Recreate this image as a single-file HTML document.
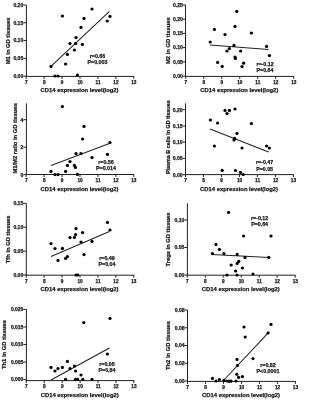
<!DOCTYPE html><html><head><meta charset="utf-8"><style>html,body{margin:0;padding:0;background:#fff;width:300px;height:400px;overflow:hidden}svg{display:block;will-change:transform}text{stroke:#1a1a1a;stroke-width:0.25px}</style></head><body>
<svg width="300" height="400" viewBox="0 0 300 400">
<rect width="300" height="400" fill="#fff"/>
<g font-family='"Liberation Sans", sans-serif' fill="#1a1a1a"><path d="M26.4 5V76.9" fill="none" stroke="#222" stroke-width="1"/><path d="M25.9 76.4H134.28" fill="none" stroke="#222" stroke-width="1"/><path d="M23.4 5H26.4" stroke="#222" stroke-width="1"/><text x="23.3" y="6.85" text-anchor="end" font-size="5.1" font-weight="bold">0.20</text><path d="M23.4 22.75H26.4" stroke="#222" stroke-width="1"/><text x="23.3" y="24.6" text-anchor="end" font-size="5.1" font-weight="bold">0.15</text><path d="M23.4 40.5H26.4" stroke="#222" stroke-width="1"/><text x="23.3" y="42.35" text-anchor="end" font-size="5.1" font-weight="bold">0.10</text><path d="M23.4 58.35H26.4" stroke="#222" stroke-width="1"/><text x="23.3" y="60.2" text-anchor="end" font-size="5.1" font-weight="bold">0.05</text><path d="M23.4 76.2H26.4" stroke="#222" stroke-width="1"/><text x="23.3" y="78.05" text-anchor="end" font-size="5.1" font-weight="bold">0.00</text><path d="M26.2 76.4V78.9" stroke="#222" stroke-width="1"/><text x="26.3" y="83.8" text-anchor="middle" font-size="4.7" font-weight="bold">7</text><path d="M44.13 76.4V78.9" stroke="#222" stroke-width="1"/><text x="44.23" y="83.8" text-anchor="middle" font-size="4.7" font-weight="bold">8</text><path d="M62.06 76.4V78.9" stroke="#222" stroke-width="1"/><text x="62.16" y="83.8" text-anchor="middle" font-size="4.7" font-weight="bold">9</text><path d="M79.99 76.4V78.9" stroke="#222" stroke-width="1"/><text x="80.09" y="83.8" text-anchor="middle" font-size="4.7" font-weight="bold">10</text><path d="M97.92 76.4V78.9" stroke="#222" stroke-width="1"/><text x="98.02" y="83.8" text-anchor="middle" font-size="4.7" font-weight="bold">11</text><path d="M115.85 76.4V78.9" stroke="#222" stroke-width="1"/><text x="115.95" y="83.8" text-anchor="middle" font-size="4.7" font-weight="bold">12</text><path d="M133.78 76.4V78.9" stroke="#222" stroke-width="1"/><text x="133.88" y="83.8" text-anchor="middle" font-size="4.7" font-weight="bold">13</text><text x="79.59" y="92.1" text-anchor="middle" font-size="5.85" font-weight="bold">CD14 expression level(log2)</text><text transform="translate(8.2 41) rotate(-90)" x="0" y="2.1" text-anchor="middle" font-size="5.8" font-weight="bold">M1 in GD tissues</text><path d="M51 66.4L109.4 11.4" stroke="#222" stroke-width="1.05"/><circle cx="62.4" cy="16" r="1.62" fill="#000"/><circle cx="84" cy="18.4" r="1.62" fill="#000"/><circle cx="81" cy="27.4" r="1.62" fill="#000"/><circle cx="76" cy="37.6" r="1.62" fill="#000"/><circle cx="70" cy="43.6" r="1.62" fill="#000"/><circle cx="75.6" cy="43.4" r="1.62" fill="#000"/><circle cx="82.4" cy="44.4" r="1.62" fill="#000"/><circle cx="74.4" cy="50" r="1.62" fill="#000"/><circle cx="67.4" cy="54.4" r="1.62" fill="#000"/><circle cx="65.6" cy="64" r="1.62" fill="#000"/><circle cx="51" cy="66.4" r="1.62" fill="#000"/><circle cx="55" cy="76" r="1.62" fill="#000"/><circle cx="58" cy="76" r="1.62" fill="#000"/><circle cx="77.4" cy="75" r="1.62" fill="#000"/><circle cx="92" cy="9" r="1.62" fill="#000"/><circle cx="110" cy="16.4" r="1.62" fill="#000"/><circle cx="107.2" cy="21" r="1.62" fill="#000"/><text x="97.5" y="58.1" text-anchor="middle" font-size="5.3" font-weight="bold">r=0.66</text><text x="97.5" y="64.3" text-anchor="middle" font-size="5.3" font-weight="bold">P=0.003</text></g>
<g font-family='"Liberation Sans", sans-serif' fill="#1a1a1a"><path d="M185.5 5V76.9" fill="none" stroke="#222" stroke-width="1"/><path d="M185 76.4H294.18" fill="none" stroke="#222" stroke-width="1"/><path d="M182.5 5H185.5" stroke="#222" stroke-width="1"/><text x="182.9" y="6.85" text-anchor="end" font-size="5.1" font-weight="bold">0.25</text><path d="M182.5 19.2H185.5" stroke="#222" stroke-width="1"/><text x="182.9" y="21.05" text-anchor="end" font-size="5.1" font-weight="bold">0.20</text><path d="M182.5 33.4H185.5" stroke="#222" stroke-width="1"/><text x="182.9" y="35.25" text-anchor="end" font-size="5.1" font-weight="bold">0.15</text><path d="M182.5 47.6H185.5" stroke="#222" stroke-width="1"/><text x="182.9" y="49.45" text-anchor="end" font-size="5.1" font-weight="bold">0.10</text><path d="M182.5 61.9H185.5" stroke="#222" stroke-width="1"/><text x="182.9" y="63.75" text-anchor="end" font-size="5.1" font-weight="bold">0.05</text><path d="M182.5 76.2H185.5" stroke="#222" stroke-width="1"/><text x="182.9" y="78.05" text-anchor="end" font-size="5.1" font-weight="bold">0.00</text><path d="M185.8 76.4V78.9" stroke="#222" stroke-width="1"/><text x="185.9" y="83.8" text-anchor="middle" font-size="4.7" font-weight="bold">7</text><path d="M203.78 76.4V78.9" stroke="#222" stroke-width="1"/><text x="203.88" y="83.8" text-anchor="middle" font-size="4.7" font-weight="bold">8</text><path d="M221.76 76.4V78.9" stroke="#222" stroke-width="1"/><text x="221.86" y="83.8" text-anchor="middle" font-size="4.7" font-weight="bold">9</text><path d="M239.74 76.4V78.9" stroke="#222" stroke-width="1"/><text x="239.84" y="83.8" text-anchor="middle" font-size="4.7" font-weight="bold">10</text><path d="M257.72 76.4V78.9" stroke="#222" stroke-width="1"/><text x="257.82" y="83.8" text-anchor="middle" font-size="4.7" font-weight="bold">11</text><path d="M275.7 76.4V78.9" stroke="#222" stroke-width="1"/><text x="275.8" y="83.8" text-anchor="middle" font-size="4.7" font-weight="bold">12</text><path d="M293.68 76.4V78.9" stroke="#222" stroke-width="1"/><text x="293.78" y="83.8" text-anchor="middle" font-size="4.7" font-weight="bold">13</text><text x="239.34" y="92.1" text-anchor="middle" font-size="5.85" font-weight="bold">CD14 expression level(log2)</text><text transform="translate(167.7 40.6) rotate(-90)" x="0" y="2.1" text-anchor="middle" font-size="5.8" font-weight="bold">M2 in GD tissues</text><path d="M210 45L268.6 49.6" stroke="#222" stroke-width="1.05"/><circle cx="236.8" cy="11.4" r="1.62" fill="#000"/><circle cx="235" cy="26.4" r="1.62" fill="#000"/><circle cx="214.4" cy="29.4" r="1.62" fill="#000"/><circle cx="225" cy="34.6" r="1.62" fill="#000"/><circle cx="251.4" cy="33" r="1.62" fill="#000"/><circle cx="210.2" cy="42" r="1.62" fill="#000"/><circle cx="234" cy="45.4" r="1.62" fill="#000"/><circle cx="266.6" cy="46.4" r="1.62" fill="#000"/><circle cx="229.4" cy="48.6" r="1.62" fill="#000"/><circle cx="227" cy="51" r="1.62" fill="#000"/><circle cx="240.6" cy="51" r="1.62" fill="#000"/><circle cx="269.4" cy="55.6" r="1.62" fill="#000"/><circle cx="235" cy="57" r="1.62" fill="#000"/><circle cx="235.4" cy="58.4" r="1.62" fill="#000"/><circle cx="217.6" cy="62.4" r="1.62" fill="#000"/><circle cx="243.6" cy="63.2" r="1.62" fill="#000"/><circle cx="222.2" cy="66.4" r="1.62" fill="#000"/><circle cx="242" cy="66.6" r="1.62" fill="#000"/><text x="265" y="65.9" text-anchor="middle" font-size="5.3" font-weight="bold">r=-0.12</text><text x="265" y="72.1" text-anchor="middle" font-size="5.3" font-weight="bold">P=0.64</text></g>
<g font-family='"Liberation Sans", sans-serif' fill="#1a1a1a"><path d="M26.4 103.3V175" fill="none" stroke="#222" stroke-width="1"/><path d="M25.9 174.5H134.28" fill="none" stroke="#222" stroke-width="1"/><path d="M23.4 119.7H26.4" stroke="#222" stroke-width="1"/><text x="23.3" y="121.55" text-anchor="end" font-size="5.1" font-weight="bold">4</text><path d="M23.4 147.2H26.4" stroke="#222" stroke-width="1"/><text x="23.3" y="149.05" text-anchor="end" font-size="5.1" font-weight="bold">2</text><path d="M23.4 174.7H26.4" stroke="#222" stroke-width="1"/><text x="23.3" y="176.55" text-anchor="end" font-size="5.1" font-weight="bold">0</text><path d="M26.2 174.5V177" stroke="#222" stroke-width="1"/><text x="26.3" y="181.9" text-anchor="middle" font-size="4.7" font-weight="bold">7</text><path d="M44.13 174.5V177" stroke="#222" stroke-width="1"/><text x="44.23" y="181.9" text-anchor="middle" font-size="4.7" font-weight="bold">8</text><path d="M62.06 174.5V177" stroke="#222" stroke-width="1"/><text x="62.16" y="181.9" text-anchor="middle" font-size="4.7" font-weight="bold">9</text><path d="M79.99 174.5V177" stroke="#222" stroke-width="1"/><text x="80.09" y="181.9" text-anchor="middle" font-size="4.7" font-weight="bold">10</text><path d="M97.92 174.5V177" stroke="#222" stroke-width="1"/><text x="98.02" y="181.9" text-anchor="middle" font-size="4.7" font-weight="bold">11</text><path d="M115.85 174.5V177" stroke="#222" stroke-width="1"/><text x="115.95" y="181.9" text-anchor="middle" font-size="4.7" font-weight="bold">12</text><path d="M133.78 174.5V177" stroke="#222" stroke-width="1"/><text x="133.88" y="181.9" text-anchor="middle" font-size="4.7" font-weight="bold">13</text><text x="79.59" y="190.5" text-anchor="middle" font-size="5.85" font-weight="bold">CD14 expression level(log2)</text><text transform="translate(14.7 138.3) rotate(-90)" x="0" y="2.1" text-anchor="middle" font-size="5.8" font-weight="bold">M1/M2 ratio in GD tissues</text><path d="M51 165.4L109.4 143.6" stroke="#222" stroke-width="1.05"/><circle cx="62.4" cy="106.6" r="1.62" fill="#000"/><circle cx="84" cy="126.4" r="1.62" fill="#000"/><circle cx="82.6" cy="139" r="1.62" fill="#000"/><circle cx="76" cy="153.6" r="1.62" fill="#000"/><circle cx="81" cy="153.6" r="1.62" fill="#000"/><circle cx="70" cy="161.6" r="1.62" fill="#000"/><circle cx="67.4" cy="165.4" r="1.62" fill="#000"/><circle cx="74.4" cy="165.4" r="1.62" fill="#000"/><circle cx="75.4" cy="167.4" r="1.62" fill="#000"/><circle cx="51" cy="171.4" r="1.62" fill="#000"/><circle cx="65.6" cy="171.4" r="1.62" fill="#000"/><circle cx="55" cy="174.6" r="1.62" fill="#000"/><circle cx="58" cy="174.6" r="1.62" fill="#000"/><circle cx="77.4" cy="174.4" r="1.62" fill="#000"/><circle cx="110" cy="142.6" r="1.62" fill="#000"/><circle cx="107.4" cy="154.4" r="1.62" fill="#000"/><circle cx="92" cy="157.6" r="1.62" fill="#000"/><text x="106" y="163.5" text-anchor="middle" font-size="5.3" font-weight="bold">r=0.56</text><text x="106" y="169.7" text-anchor="middle" font-size="5.3" font-weight="bold">P=0.014</text></g>
<g font-family='"Liberation Sans", sans-serif' fill="#1a1a1a"><path d="M185.5 103.3V175.1" fill="none" stroke="#222" stroke-width="1"/><path d="M185 174.6H293.88" fill="none" stroke="#222" stroke-width="1"/><path d="M182.5 109.7H185.5" stroke="#222" stroke-width="1"/><text x="182.6" y="111.55" text-anchor="end" font-size="5.1" font-weight="bold">0.20</text><path d="M182.5 126H185.5" stroke="#222" stroke-width="1"/><text x="182.6" y="127.85" text-anchor="end" font-size="5.1" font-weight="bold">0.15</text><path d="M182.5 142.2H185.5" stroke="#222" stroke-width="1"/><text x="182.6" y="144.05" text-anchor="end" font-size="5.1" font-weight="bold">0.10</text><path d="M182.5 158.4H185.5" stroke="#222" stroke-width="1"/><text x="182.6" y="160.25" text-anchor="end" font-size="5.1" font-weight="bold">0.05</text><path d="M182.5 174.7H185.5" stroke="#222" stroke-width="1"/><text x="182.6" y="176.55" text-anchor="end" font-size="5.1" font-weight="bold">0.00</text><path d="M185.5 174.6V177.1" stroke="#222" stroke-width="1"/><text x="185.6" y="182" text-anchor="middle" font-size="4.7" font-weight="bold">7</text><path d="M203.48 174.6V177.1" stroke="#222" stroke-width="1"/><text x="203.58" y="182" text-anchor="middle" font-size="4.7" font-weight="bold">8</text><path d="M221.46 174.6V177.1" stroke="#222" stroke-width="1"/><text x="221.56" y="182" text-anchor="middle" font-size="4.7" font-weight="bold">9</text><path d="M239.44 174.6V177.1" stroke="#222" stroke-width="1"/><text x="239.54" y="182" text-anchor="middle" font-size="4.7" font-weight="bold">10</text><path d="M257.42 174.6V177.1" stroke="#222" stroke-width="1"/><text x="257.52" y="182" text-anchor="middle" font-size="4.7" font-weight="bold">11</text><path d="M275.4 174.6V177.1" stroke="#222" stroke-width="1"/><text x="275.5" y="182" text-anchor="middle" font-size="4.7" font-weight="bold">12</text><path d="M293.38 174.6V177.1" stroke="#222" stroke-width="1"/><text x="293.48" y="182" text-anchor="middle" font-size="4.7" font-weight="bold">13</text><text x="239.04" y="190.5" text-anchor="middle" font-size="5.85" font-weight="bold">CD14 expression level(log2)</text><text transform="translate(167.6 137.2) rotate(-90)" x="0" y="2.1" text-anchor="middle" font-size="5.4" font-weight="bold">Plasma B cells in GD tissues</text><path d="M210 129L268.6 152" stroke="#222" stroke-width="1.05"/><circle cx="225" cy="110.4" r="1.62" fill="#000"/><circle cx="229.4" cy="110.4" r="1.62" fill="#000"/><circle cx="235" cy="109" r="1.62" fill="#000"/><circle cx="227" cy="113.6" r="1.62" fill="#000"/><circle cx="210.4" cy="120" r="1.62" fill="#000"/><circle cx="217.6" cy="123" r="1.62" fill="#000"/><circle cx="251.4" cy="123.6" r="1.62" fill="#000"/><circle cx="237" cy="133.4" r="1.62" fill="#000"/><circle cx="234.6" cy="138.4" r="1.62" fill="#000"/><circle cx="234" cy="140" r="1.62" fill="#000"/><circle cx="214.4" cy="146" r="1.62" fill="#000"/><circle cx="242" cy="148" r="1.62" fill="#000"/><circle cx="266.6" cy="146" r="1.62" fill="#000"/><circle cx="269.4" cy="148" r="1.62" fill="#000"/><circle cx="222.2" cy="170.4" r="1.62" fill="#000"/><circle cx="235.4" cy="170.5" r="1.62" fill="#000"/><circle cx="240.5" cy="172.4" r="1.62" fill="#000"/><circle cx="243.2" cy="174.5" r="1.62" fill="#000"/><text x="264.6" y="164.4" text-anchor="middle" font-size="5.3" font-weight="bold">r=-0.47</text><text x="264.6" y="170.6" text-anchor="middle" font-size="5.3" font-weight="bold">P=0.05</text></g>
<g font-family='"Liberation Sans", sans-serif' fill="#1a1a1a"><path d="M26.3 203.3V275.7" fill="none" stroke="#222" stroke-width="1"/><path d="M25.8 275.2H134.28" fill="none" stroke="#222" stroke-width="1"/><path d="M23.3 203.3H26.3" stroke="#222" stroke-width="1"/><text x="23.3" y="205.15" text-anchor="end" font-size="5.1" font-weight="bold">0.15</text><path d="M23.3 227.2H26.3" stroke="#222" stroke-width="1"/><text x="23.3" y="229.05" text-anchor="end" font-size="5.1" font-weight="bold">0.10</text><path d="M23.3 251.1H26.3" stroke="#222" stroke-width="1"/><text x="23.3" y="252.95" text-anchor="end" font-size="5.1" font-weight="bold">0.05</text><path d="M23.3 275H26.3" stroke="#222" stroke-width="1"/><text x="23.3" y="276.85" text-anchor="end" font-size="5.1" font-weight="bold">0.00</text><path d="M26.2 275.2V277.7" stroke="#222" stroke-width="1"/><text x="26.3" y="282.6" text-anchor="middle" font-size="4.7" font-weight="bold">7</text><path d="M44.13 275.2V277.7" stroke="#222" stroke-width="1"/><text x="44.23" y="282.6" text-anchor="middle" font-size="4.7" font-weight="bold">8</text><path d="M62.06 275.2V277.7" stroke="#222" stroke-width="1"/><text x="62.16" y="282.6" text-anchor="middle" font-size="4.7" font-weight="bold">9</text><path d="M79.99 275.2V277.7" stroke="#222" stroke-width="1"/><text x="80.09" y="282.6" text-anchor="middle" font-size="4.7" font-weight="bold">10</text><path d="M97.92 275.2V277.7" stroke="#222" stroke-width="1"/><text x="98.02" y="282.6" text-anchor="middle" font-size="4.7" font-weight="bold">11</text><path d="M115.85 275.2V277.7" stroke="#222" stroke-width="1"/><text x="115.95" y="282.6" text-anchor="middle" font-size="4.7" font-weight="bold">12</text><path d="M133.78 275.2V277.7" stroke="#222" stroke-width="1"/><text x="133.88" y="282.6" text-anchor="middle" font-size="4.7" font-weight="bold">13</text><text x="79.59" y="291" text-anchor="middle" font-size="5.85" font-weight="bold">CD14 expression level(log2)</text><text transform="translate(8.1 239.4) rotate(-90)" x="0" y="2.1" text-anchor="middle" font-size="5.8" font-weight="bold">Tfh in GD tissues</text><path d="M51 256.6L109.4 231.4" stroke="#222" stroke-width="1.05"/><circle cx="76" cy="228.6" r="1.62" fill="#000"/><circle cx="82.6" cy="232.6" r="1.62" fill="#000"/><circle cx="75.6" cy="234.6" r="1.62" fill="#000"/><circle cx="70" cy="237.6" r="1.62" fill="#000"/><circle cx="74.4" cy="237.4" r="1.62" fill="#000"/><circle cx="81" cy="242" r="1.62" fill="#000"/><circle cx="51" cy="243.6" r="1.62" fill="#000"/><circle cx="55" cy="248.6" r="1.62" fill="#000"/><circle cx="62.4" cy="248.4" r="1.62" fill="#000"/><circle cx="84" cy="254.6" r="1.62" fill="#000"/><circle cx="67.4" cy="256.6" r="1.62" fill="#000"/><circle cx="65.6" cy="258.4" r="1.62" fill="#000"/><circle cx="58" cy="260.4" r="1.62" fill="#000"/><circle cx="76" cy="275" r="1.62" fill="#000"/><circle cx="77.8" cy="275" r="1.62" fill="#000"/><circle cx="107.4" cy="222.4" r="1.62" fill="#000"/><circle cx="110" cy="230" r="1.62" fill="#000"/><circle cx="92" cy="241.4" r="1.62" fill="#000"/><text x="107" y="259.9" text-anchor="middle" font-size="5.3" font-weight="bold">r=0.49</text><text x="107" y="266.1" text-anchor="middle" font-size="5.3" font-weight="bold">P=0.04</text></g>
<g font-family='"Liberation Sans", sans-serif' fill="#1a1a1a"><path d="M187.4 203.3V275.7" fill="none" stroke="#222" stroke-width="1"/><path d="M186.9 275.2H295.68" fill="none" stroke="#222" stroke-width="1"/><path d="M184.4 220H187.4" stroke="#222" stroke-width="1"/><text x="184.4" y="221.85" text-anchor="end" font-size="5.1" font-weight="bold">0.10</text><path d="M184.4 247.5H187.4" stroke="#222" stroke-width="1"/><text x="184.4" y="249.35" text-anchor="end" font-size="5.1" font-weight="bold">0.05</text><path d="M184.4 275H187.4" stroke="#222" stroke-width="1"/><text x="184.4" y="276.85" text-anchor="end" font-size="5.1" font-weight="bold">0.00</text><path d="M187.3 275.2V277.7" stroke="#222" stroke-width="1"/><text x="187.4" y="282.6" text-anchor="middle" font-size="4.7" font-weight="bold">7</text><path d="M205.28 275.2V277.7" stroke="#222" stroke-width="1"/><text x="205.38" y="282.6" text-anchor="middle" font-size="4.7" font-weight="bold">8</text><path d="M223.26 275.2V277.7" stroke="#222" stroke-width="1"/><text x="223.36" y="282.6" text-anchor="middle" font-size="4.7" font-weight="bold">9</text><path d="M241.24 275.2V277.7" stroke="#222" stroke-width="1"/><text x="241.34" y="282.6" text-anchor="middle" font-size="4.7" font-weight="bold">10</text><path d="M259.22 275.2V277.7" stroke="#222" stroke-width="1"/><text x="259.32" y="282.6" text-anchor="middle" font-size="4.7" font-weight="bold">11</text><path d="M277.2 275.2V277.7" stroke="#222" stroke-width="1"/><text x="277.3" y="282.6" text-anchor="middle" font-size="4.7" font-weight="bold">12</text><path d="M295.18 275.2V277.7" stroke="#222" stroke-width="1"/><text x="295.28" y="282.6" text-anchor="middle" font-size="4.7" font-weight="bold">13</text><text x="240.84" y="291" text-anchor="middle" font-size="5.85" font-weight="bold">CD14 expression level(log2)</text><text transform="translate(168.2 239.5) rotate(-90)" x="0" y="2.1" text-anchor="middle" font-size="5.8" font-weight="bold">Tregs in GD tissues</text><path d="M211.6 254.6L269.4 257.4" stroke="#222" stroke-width="1.05"/><circle cx="268.8" cy="257.4" r="1.62" fill="#000"/><circle cx="228.6" cy="212.4" r="1.62" fill="#000"/><circle cx="243.6" cy="236" r="1.62" fill="#000"/><circle cx="271" cy="236" r="1.62" fill="#000"/><circle cx="216" cy="244.4" r="1.62" fill="#000"/><circle cx="219.4" cy="249.4" r="1.62" fill="#000"/><circle cx="212.4" cy="253.6" r="1.62" fill="#000"/><circle cx="224" cy="253.6" r="1.62" fill="#000"/><circle cx="237.2" cy="254.4" r="1.62" fill="#000"/><circle cx="245" cy="257.4" r="1.62" fill="#000"/><circle cx="238.8" cy="261.4" r="1.62" fill="#000"/><circle cx="237.2" cy="263.4" r="1.62" fill="#000"/><circle cx="231.2" cy="265" r="1.62" fill="#000"/><circle cx="242.4" cy="268" r="1.62" fill="#000"/><circle cx="235.6" cy="271" r="1.62" fill="#000"/><circle cx="227" cy="275" r="1.62" fill="#000"/><circle cx="237" cy="275" r="1.62" fill="#000"/><circle cx="253" cy="274" r="1.62" fill="#000"/><text x="259.6" y="220.1" text-anchor="middle" font-size="5.3" font-weight="bold">r=-0.12</text><text x="259.6" y="226.3" text-anchor="middle" font-size="5.3" font-weight="bold">P=0.64</text></g>
<g font-family='"Liberation Sans", sans-serif' fill="#1a1a1a"><path d="M26.4 309.3V381.1" fill="none" stroke="#222" stroke-width="1"/><path d="M25.9 380.6H134.38" fill="none" stroke="#222" stroke-width="1"/><path d="M23.4 309.4H26.4" stroke="#222" stroke-width="1"/><text x="23.4" y="311.25" text-anchor="end" font-size="5" font-weight="bold">0.020</text><path d="M23.4 326.95H26.4" stroke="#222" stroke-width="1"/><text x="23.4" y="328.8" text-anchor="end" font-size="5" font-weight="bold">0.015</text><path d="M23.4 344.5H26.4" stroke="#222" stroke-width="1"/><text x="23.4" y="346.35" text-anchor="end" font-size="5" font-weight="bold">0.010</text><path d="M23.4 362.05H26.4" stroke="#222" stroke-width="1"/><text x="23.4" y="363.9" text-anchor="end" font-size="5" font-weight="bold">0.005</text><path d="M23.4 379.6H26.4" stroke="#222" stroke-width="1"/><text x="23.4" y="381.45" text-anchor="end" font-size="5" font-weight="bold">0.000</text><path d="M26.3 380.6V383.1" stroke="#222" stroke-width="1"/><text x="26.4" y="388" text-anchor="middle" font-size="4.7" font-weight="bold">7</text><path d="M44.23 380.6V383.1" stroke="#222" stroke-width="1"/><text x="44.33" y="388" text-anchor="middle" font-size="4.7" font-weight="bold">8</text><path d="M62.16 380.6V383.1" stroke="#222" stroke-width="1"/><text x="62.26" y="388" text-anchor="middle" font-size="4.7" font-weight="bold">9</text><path d="M80.09 380.6V383.1" stroke="#222" stroke-width="1"/><text x="80.19" y="388" text-anchor="middle" font-size="4.7" font-weight="bold">10</text><path d="M98.02 380.6V383.1" stroke="#222" stroke-width="1"/><text x="98.12" y="388" text-anchor="middle" font-size="4.7" font-weight="bold">11</text><path d="M115.95 380.6V383.1" stroke="#222" stroke-width="1"/><text x="116.05" y="388" text-anchor="middle" font-size="4.7" font-weight="bold">12</text><path d="M133.88 380.6V383.1" stroke="#222" stroke-width="1"/><text x="133.98" y="388" text-anchor="middle" font-size="4.7" font-weight="bold">13</text><text x="79.69" y="396.5" text-anchor="middle" font-size="5.85" font-weight="bold">CD14 expression level(log2)</text><text transform="translate(3.4 344.5) rotate(-90)" x="0" y="2.1" text-anchor="middle" font-size="5.8" font-weight="bold">Th1 in GD tissues</text><path d="M51 380L109.4 348" stroke="#222" stroke-width="1.05"/><circle cx="83.8" cy="322.6" r="1.62" fill="#000"/><circle cx="110" cy="318.4" r="1.62" fill="#000"/><circle cx="107.4" cy="354" r="1.62" fill="#000"/><circle cx="67.4" cy="361.4" r="1.62" fill="#000"/><circle cx="51" cy="367.4" r="1.62" fill="#000"/><circle cx="74.5" cy="366" r="1.62" fill="#000"/><circle cx="62.4" cy="367.4" r="1.62" fill="#000"/><circle cx="58" cy="368.6" r="1.62" fill="#000"/><circle cx="70" cy="368.6" r="1.62" fill="#000"/><circle cx="55" cy="371" r="1.62" fill="#000"/><circle cx="75.6" cy="371" r="1.62" fill="#000"/><circle cx="81" cy="375" r="1.62" fill="#000"/><circle cx="65.6" cy="379.4" r="1.62" fill="#000"/><circle cx="75.5" cy="379.4" r="1.62" fill="#000"/><circle cx="77.6" cy="379.4" r="1.62" fill="#000"/><circle cx="82.8" cy="379.4" r="1.62" fill="#000"/><circle cx="92" cy="379.4" r="1.62" fill="#000"/><text x="107" y="365.5" text-anchor="middle" font-size="5.3" font-weight="bold">r=0.05</text><text x="107" y="371.7" text-anchor="middle" font-size="5.3" font-weight="bold">P=0.84</text></g>
<g font-family='"Liberation Sans", sans-serif' fill="#1a1a1a"><path d="M187.5 310V381.9" fill="none" stroke="#222" stroke-width="1"/><path d="M187 381.4H295.88" fill="none" stroke="#222" stroke-width="1"/><path d="M184.5 310H187.5" stroke="#222" stroke-width="1"/><text x="184.6" y="311.85" text-anchor="end" font-size="5.1" font-weight="bold">0.08</text><path d="M184.5 327.75H187.5" stroke="#222" stroke-width="1"/><text x="184.6" y="329.6" text-anchor="end" font-size="5.1" font-weight="bold">0.06</text><path d="M184.5 345.5H187.5" stroke="#222" stroke-width="1"/><text x="184.6" y="347.35" text-anchor="end" font-size="5.1" font-weight="bold">0.04</text><path d="M184.5 363.25H187.5" stroke="#222" stroke-width="1"/><text x="184.6" y="365.1" text-anchor="end" font-size="5.1" font-weight="bold">0.02</text><path d="M184.5 381H187.5" stroke="#222" stroke-width="1"/><text x="184.6" y="382.85" text-anchor="end" font-size="5.1" font-weight="bold">0.00</text><path d="M187.5 381.4V383.9" stroke="#222" stroke-width="1"/><text x="187.6" y="388.8" text-anchor="middle" font-size="4.7" font-weight="bold">7</text><path d="M205.48 381.4V383.9" stroke="#222" stroke-width="1"/><text x="205.58" y="388.8" text-anchor="middle" font-size="4.7" font-weight="bold">8</text><path d="M223.46 381.4V383.9" stroke="#222" stroke-width="1"/><text x="223.56" y="388.8" text-anchor="middle" font-size="4.7" font-weight="bold">9</text><path d="M241.44 381.4V383.9" stroke="#222" stroke-width="1"/><text x="241.54" y="388.8" text-anchor="middle" font-size="4.7" font-weight="bold">10</text><path d="M259.42 381.4V383.9" stroke="#222" stroke-width="1"/><text x="259.52" y="388.8" text-anchor="middle" font-size="4.7" font-weight="bold">11</text><path d="M277.4 381.4V383.9" stroke="#222" stroke-width="1"/><text x="277.5" y="388.8" text-anchor="middle" font-size="4.7" font-weight="bold">12</text><path d="M295.38 381.4V383.9" stroke="#222" stroke-width="1"/><text x="295.48" y="388.8" text-anchor="middle" font-size="4.7" font-weight="bold">13</text><text x="241.04" y="397.2" text-anchor="middle" font-size="5.85" font-weight="bold">CD14 expression level(log2)</text><text transform="translate(167.5 345.5) rotate(-90)" x="0" y="2.1" text-anchor="middle" font-size="5.8" font-weight="bold">Th2 in GD tissues</text><path d="M223 381L269.4 331.6" stroke="#222" stroke-width="1.05"/><circle cx="271" cy="324.4" r="1.62" fill="#000"/><circle cx="244" cy="327" r="1.62" fill="#000"/><circle cx="245.2" cy="337" r="1.62" fill="#000"/><circle cx="268" cy="333" r="1.62" fill="#000"/><circle cx="237" cy="359.4" r="1.62" fill="#000"/><circle cx="253" cy="358.6" r="1.62" fill="#000"/><circle cx="237.4" cy="365.6" r="1.62" fill="#000"/><circle cx="236.8" cy="374.3" r="1.62" fill="#000"/><circle cx="242.4" cy="376.6" r="1.62" fill="#000"/><circle cx="238.6" cy="377.4" r="1.62" fill="#000"/><circle cx="212.4" cy="378.4" r="1.62" fill="#000"/><circle cx="219.4" cy="379.6" r="1.62" fill="#000"/><circle cx="216" cy="381" r="1.62" fill="#000"/><circle cx="224" cy="380.4" r="1.62" fill="#000"/><circle cx="227" cy="381" r="1.62" fill="#000"/><circle cx="229" cy="381.2" r="1.62" fill="#000"/><circle cx="231" cy="381.2" r="1.62" fill="#000"/><circle cx="236" cy="381" r="1.62" fill="#000"/><text x="268" y="366.5" text-anchor="middle" font-size="5.3" font-weight="bold">r=0.82</text><text x="268" y="372.7" text-anchor="middle" font-size="5.3" font-weight="bold">P&lt;0.0001</text></g>
</svg></body></html>
